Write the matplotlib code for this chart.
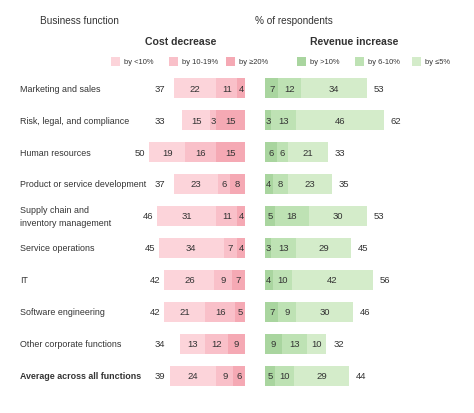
import matplotlib
matplotlib.use("Agg")
import matplotlib.pyplot as plt
from matplotlib.transforms import blended_transform_factory
from matplotlib.patches import Rectangle

plt.rcParams["font.family"] = ["Liberation Sans", "DejaVu Sans"]

functions = [
    "Marketing and sales",
    "Risk, legal, and compliance",
    "Human resources",
    "Product or service development",
    "Supply chain and\ninventory management",
    "Service operations",
    "IT",
    "Software engineering",
    "Other corporate functions",
    "Average across all functions",
]

# cost decrease, from bar start toward the centre
cost_lt10 = [22, 15, 19, 23, 31, 34, 26, 21, 13, 24]
cost_10_19 = [11, 3, 16, 6, 11, 7, 9, 16, 12, 9]
cost_ge20 = [4, 15, 15, 8, 4, 4, 7, 5, 9, 6]
cost_total = [37, 33, 50, 37, 46, 45, 42, 42, 34, 39]

# revenue increase, from the centre outward
rev_gt10 = [7, 3, 6, 4, 5, 3, 4, 7, 9, 5]
rev_6_10 = [12, 13, 6, 8, 18, 13, 10, 9, 13, 10]
rev_le5 = [34, 46, 21, 23, 30, 29, 42, 30, 10, 29]
rev_total = [53, 62, 33, 35, 53, 45, 56, 46, 32, 44]

cost_colors = ["#fcd4da", "#f9c0c9", "#f5a9b4"]
rev_colors = ["#a9d59f", "#bee2b4", "#d4ecca"]
text_color = "#333333"

W, H = 474, 414
PX = 1.92  # pixels per percentage point
fig = plt.figure(figsize=(W / 100, H / 100), dpi=100)

# row i sits at pixel 89 + 32 * i
ylim = ((H - 89) / 32, -89 / 32)

ax_c = fig.add_axes([0, 0, 245 / W, 1])
ax_c.set_xlim(245 / PX, 0)
ax_r = fig.add_axes([265 / W, 0, (W - 265) / W, 1])
ax_r.set_xlim(0, (W - 265) / PX)
for ax in (ax_c, ax_r):
    ax.set_ylim(*ylim)
    ax.axis("off")

rows = range(len(functions))
bh = 0.6
num_fs = 6.8

# cost bars: drawn from the centre (x=0) outward on an inverted axis
for i in rows:
    segs = [cost_lt10[i], cost_10_19[i], cost_ge20[i]]
    start = cost_total[i]
    for v, c in zip(segs, cost_colors):
        ax_c.barh(i, v, left=start - v, height=bh, color=c, linewidth=0)
        ax_c.text(start - v / 2, i, str(v), ha="center", va="center",
                  fontsize=num_fs, color=text_color)
        start -= v
    x_lab = max(cost_total[i] + 1.8, (245 - 165) / PX)
    ax_c.text(x_lab, i, str(cost_total[i]), ha="right", va="center",
              fontsize=num_fs, color=text_color)

for i in rows:
    segs = [rev_gt10[i], rev_6_10[i], rev_le5[i]]
    left = 0
    for v, c in zip(segs, rev_colors):
        ax_r.barh(i, v, left=left, height=bh, color=c, linewidth=0)
        ax_r.text(left + v / 2, i, str(v), ha="center", va="center",
                  fontsize=num_fs, color=text_color)
        left += v
    ax_r.text(rev_total[i] + 3.5, i, str(rev_total[i]), ha="left", va="center",
              fontsize=num_fs, color=text_color)

# category labels
tr = blended_transform_factory(fig.transFigure, ax_c.transData)
for i, name in enumerate(functions):
    bold = name.startswith("Average")
    ax_c.text(20 / W, i, name, transform=tr, ha="left", va="center",
              fontsize=6.4, color=text_color, linespacing=1.5,
              fontweight="bold" if bold else "normal")

# headers
def fy(py):
    return 1 - py / H

fig.text(40 / W, fy(21), "Business function", fontsize=7.2, color=text_color,
         ha="left", va="center")
fig.text(255 / W, fy(21), "% of respondents", fontsize=7.2, color=text_color,
         ha="left", va="center")
fig.text(181 / W, fy(42), "Cost decrease", fontsize=7.6, fontweight="bold",
         color=text_color, ha="center", va="center")
fig.text(354 / W, fy(42), "Revenue increase", fontsize=7.5, fontweight="bold",
         color=text_color, ha="center", va="center")

legend_items = [
    (111, "by <10%", cost_colors[0]),
    (169, "by 10-19%", cost_colors[1]),
    (226, "by \u226520%", cost_colors[2]),
    (297, "by >10%", rev_colors[0]),
    (355, "by 6-10%", rev_colors[1]),
    (412, "by \u22645%", rev_colors[2]),
]
for px, label, c in legend_items:
    fig.patches.append(Rectangle((px / W, fy(67)), 9 / W, 9 / H,
                                 transform=fig.transFigure, color=c, lw=0))
    fig.text((px + 13) / W, fy(62.5), label, fontsize=5.4, color=text_color,
             ha="left", va="center")

fig.savefig("out.png", dpi=100)
